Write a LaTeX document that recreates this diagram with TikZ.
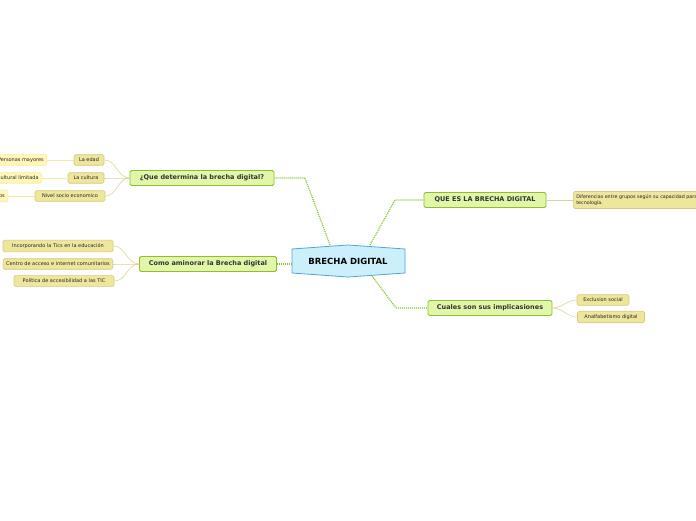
\documentclass[tikz,border=0pt]{standalone}
\usepackage{fontspec}
\setmainfont{DejaVu Sans}
\definecolor{mainfill}{HTML}{E1F6A9}
\definecolor{mainline}{HTML}{8DC02A}
\definecolor{subfill}{HTML}{EEE69C}
\definecolor{subline}{HTML}{D3CB7E}
\definecolor{leaffill}{HTML}{FFF7B8}
\begin{document}
\begin{tikzpicture}[x=1pt,y=-1pt,
 mainbox/.style={draw=mainline,line width=0.8pt,fill=mainfill,rounded corners=1.5pt,font=\fontsize{6.5}{7}\selectfont\bfseries,text=black!80,minimum height=15pt,inner xsep=4pt},
 subbox/.style={draw=subline,line width=0.6pt,fill=subfill,rounded corners=1.5pt,font=\fontsize{5}{5.7}\selectfont,text=black!85,minimum height=10pt,inner xsep=3pt},
 leafbox/.style={subbox,fill=leaffill,draw=leaffill!80!subline},
 dots/.style={draw=mainline!90!green,line width=1.2pt,dash pattern=on 1pt off 1pt},
 thin/.style={draw=subline!80,line width=0.6pt}]
\fill[white] (0,0) rectangle (696,520);
\clip (0,0) rectangle (696,520);
% central
\draw[fill=cyan!20,draw=cyan!70!blue!70,line width=0.8pt] (292,249) -- (348,245) -- (405,249) -- (405,273) -- (348,277) -- (292,273) -- cycle;
\node[font=\fontsize{8.5}{10}\selectfont\bfseries] (c) at (348,261) {BRECHA DIGITAL};
% main nodes
\node[mainbox,minimum width=144pt] (q) at (202,178) {¿Que determina la brecha digital?};
\node[mainbox,minimum width=137pt] (a) at (208,264) {Como aminorar la Brecha digital};
\node[mainbox,minimum width=122pt] (e) at (485,200) {QUE ES LA BRECHA DIGITAL};
\node[mainbox,minimum width=124pt] (i) at (490,308) {Cuales son sus implicasiones};
\coordinate (c1) at (330,245); \coordinate (c2) at (292,264);
\coordinate (c3) at (370,245); \coordinate (c4) at (372,276);
\draw[dots] (c1) -- (305,178) -- (q.east);
\draw[dots] (c2) -- (a.east);
\draw[dots] (c3) -- (395,200) -- (e.west);
\draw[dots] (c4) -- (396,308) -- (i.west);
% sub nodes
\node[subbox,minimum width=30pt] (s1) at (89,160) {La edad};
\node[subbox,minimum width=36pt] (s2) at (86,178) {La cultura};
\node[subbox,minimum width=70pt] (s3) at (70,196) {Nivel socio economico};
\node[leafbox,anchor=east] (l1) at (47,160) {Personas mayores};
\node[leafbox,anchor=east] (l2) at (42,178) {Diversidad cultural limitada};
\node[leafbox,anchor=east] (l3) at (8,196) {Bajos recursos};
\node[subbox,minimum width=110pt] (t1) at (58,246) {Incorporando la Tics en la educación};
\node[subbox,anchor=east] (t2) at (113,264) {Centro de acceso e internet comunitarios};
\node[subbox,minimum width=100pt] (t3) at (64,281) {Política de accesibilidad a las TIC};
\node[subbox,anchor=west,align=left,minimum height=17pt,font=\fontsize{4.8}{5.4}\selectfont] (d) at (573,200) {Diferencias entre grupos según su capacidad para utilizar la\\tecnología.};
\node[subbox,minimum width=52pt] (x1) at (603,300) {Exclusion social};
\node[subbox,minimum width=67pt] (x2) at (611,317) {Analfabetismo digital};
\foreach \s in {s1,s2,s3}{\draw[thin] (q.west) to[out=180,in=0] (\s.east);}
\foreach \s in {t1,t2,t3}{\draw[thin] (a.west) to[out=180,in=0] (\s.east);}
\foreach \s in {x1,x2}{\draw[thin] (i.east) to[out=0,in=180] (\s.west);}
\draw[thin] (e.east) -- (d.west);
\draw[thin,draw=leaffill!70!subline] (s1.west) -- (l1.east);
\draw[thin,draw=leaffill!70!subline] (s2.west) -- (l2.east);
\draw[thin,draw=leaffill!70!subline] (s3.west) -- (l3.east);
\end{tikzpicture}
\end{document}
